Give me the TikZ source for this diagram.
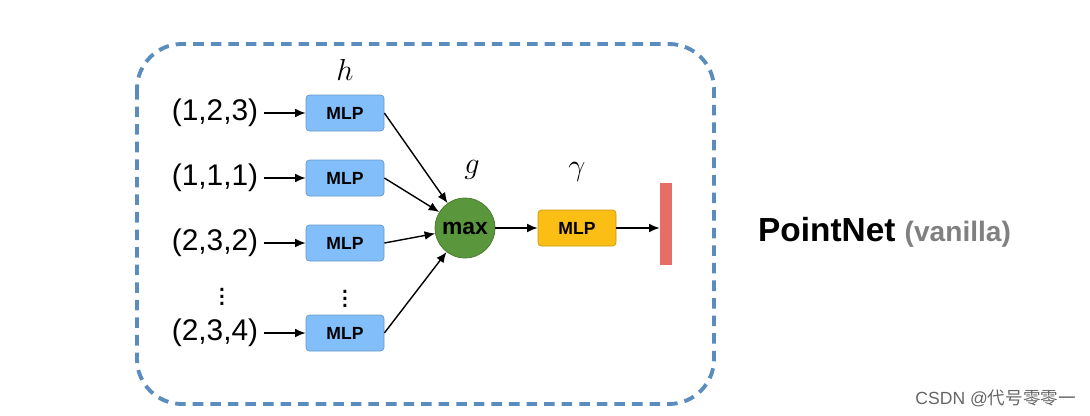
\documentclass[tikz,border=0pt]{standalone}
\usepackage{fontspec}
\setmainfont{Liberation Sans}
\newfontfamily\cjk{Noto Sans CJK SC}
\usetikzlibrary{arrows.meta}
\definecolor{boxblue}{RGB}{130,190,250}
\definecolor{maxgreen}{RGB}{90,150,60}
\definecolor{mlpyellow}{RGB}{250,190,20}
\definecolor{barred}{RGB}{230,110,100}
\definecolor{dashblue}{RGB}{90,140,190}
\newlength{\pxw}
\setlength{\pxw}{0.02cm}
\tikzset{
  mlp/.style={draw=boxblue!80!black, fill=boxblue, rounded corners=2pt, minimum width=78\pxw, minimum height=36\pxw, font=\fontsize{10}{12}\selectfont\bfseries},
  inp/.style={font=\fontsize{17}{20}\selectfont},
  arr/.style={thick,-{Latex[length=6pt,width=5pt]}}
}
\begin{document}
\begin{tikzpicture}[x=0.02cm,y=-0.02cm]
		\useasboundingbox (0,0) rectangle (1090,416);
		% Dashed frame
		\draw[dashblue, line width=2.2pt, dash pattern=on 6pt off 4pt, rounded corners=45\pxw] (137,44) rectangle (714,404);
		
		% Inputs and first MLPs
		\foreach \name/\txt/\y in {a/{(1,2,3)}/113, b/{(1,1,1)}/178, c/{(2,3,2)}/243, d/{(2,3,4)}/333}{
			\node[inp] (in\name) at (215,\y) {\txt};
			\node[mlp] (h\name) at (345,\y) {MLP};
			\draw[arr] (in\name) -- (h\name);
		}
		\node[inp, inner sep=0pt] (vdotsin) at (222,292) {$\vdots$};
		\node[inp, inner sep=0pt] (vdotsh) at (345,294) {$\vdots$};
		\node[font=\fontsize{18}{20}\selectfont] (hlabel) at (345,70) {$h$};
		
		% Max pooling
		\node[circle, draw=maxgreen!80!black, fill=maxgreen, minimum size=60\pxw, inner sep=0pt, font=\fontsize{13}{15}\selectfont\bfseries] (max) at (465,228) {max};
		\node[font=\fontsize{18}{20}\selectfont] (glabel) at (472,170) {$g$};
		\foreach \name in {a,b,c,d}
			\draw[arr] (h\name.east) -- (max);
		
		% Gamma MLP and output
		\node[mlp, fill=mlpyellow, draw=mlpyellow!80!black] (gamma) at (577,228) {MLP};
		\node[font=\fontsize{18}{20}\selectfont] (gammalabel) at (577,172) {$\gamma$};
		\node[fill=barred, minimum width=12\pxw, minimum height=82\pxw, inner sep=0pt] (bar) at (666,224) {};
		\draw[arr] (max) -- (gamma);
		\draw[arr] (gamma) -- (gamma -| bar.west);
		
		% Title
		\node[anchor=west, font=\fontsize{19}{22}\selectfont\bfseries] (title) at (752,232) {PointNet \textcolor{gray}{\fontsize{16}{18}\selectfont(vanilla)}};
		\node[anchor=east, font=\fontsize{10}{12}\selectfont, text=gray!80!black] (mark) at (1082,398) {CSDN @{\cjk 代号零零一}};
	\end{tikzpicture}
\end{document}
